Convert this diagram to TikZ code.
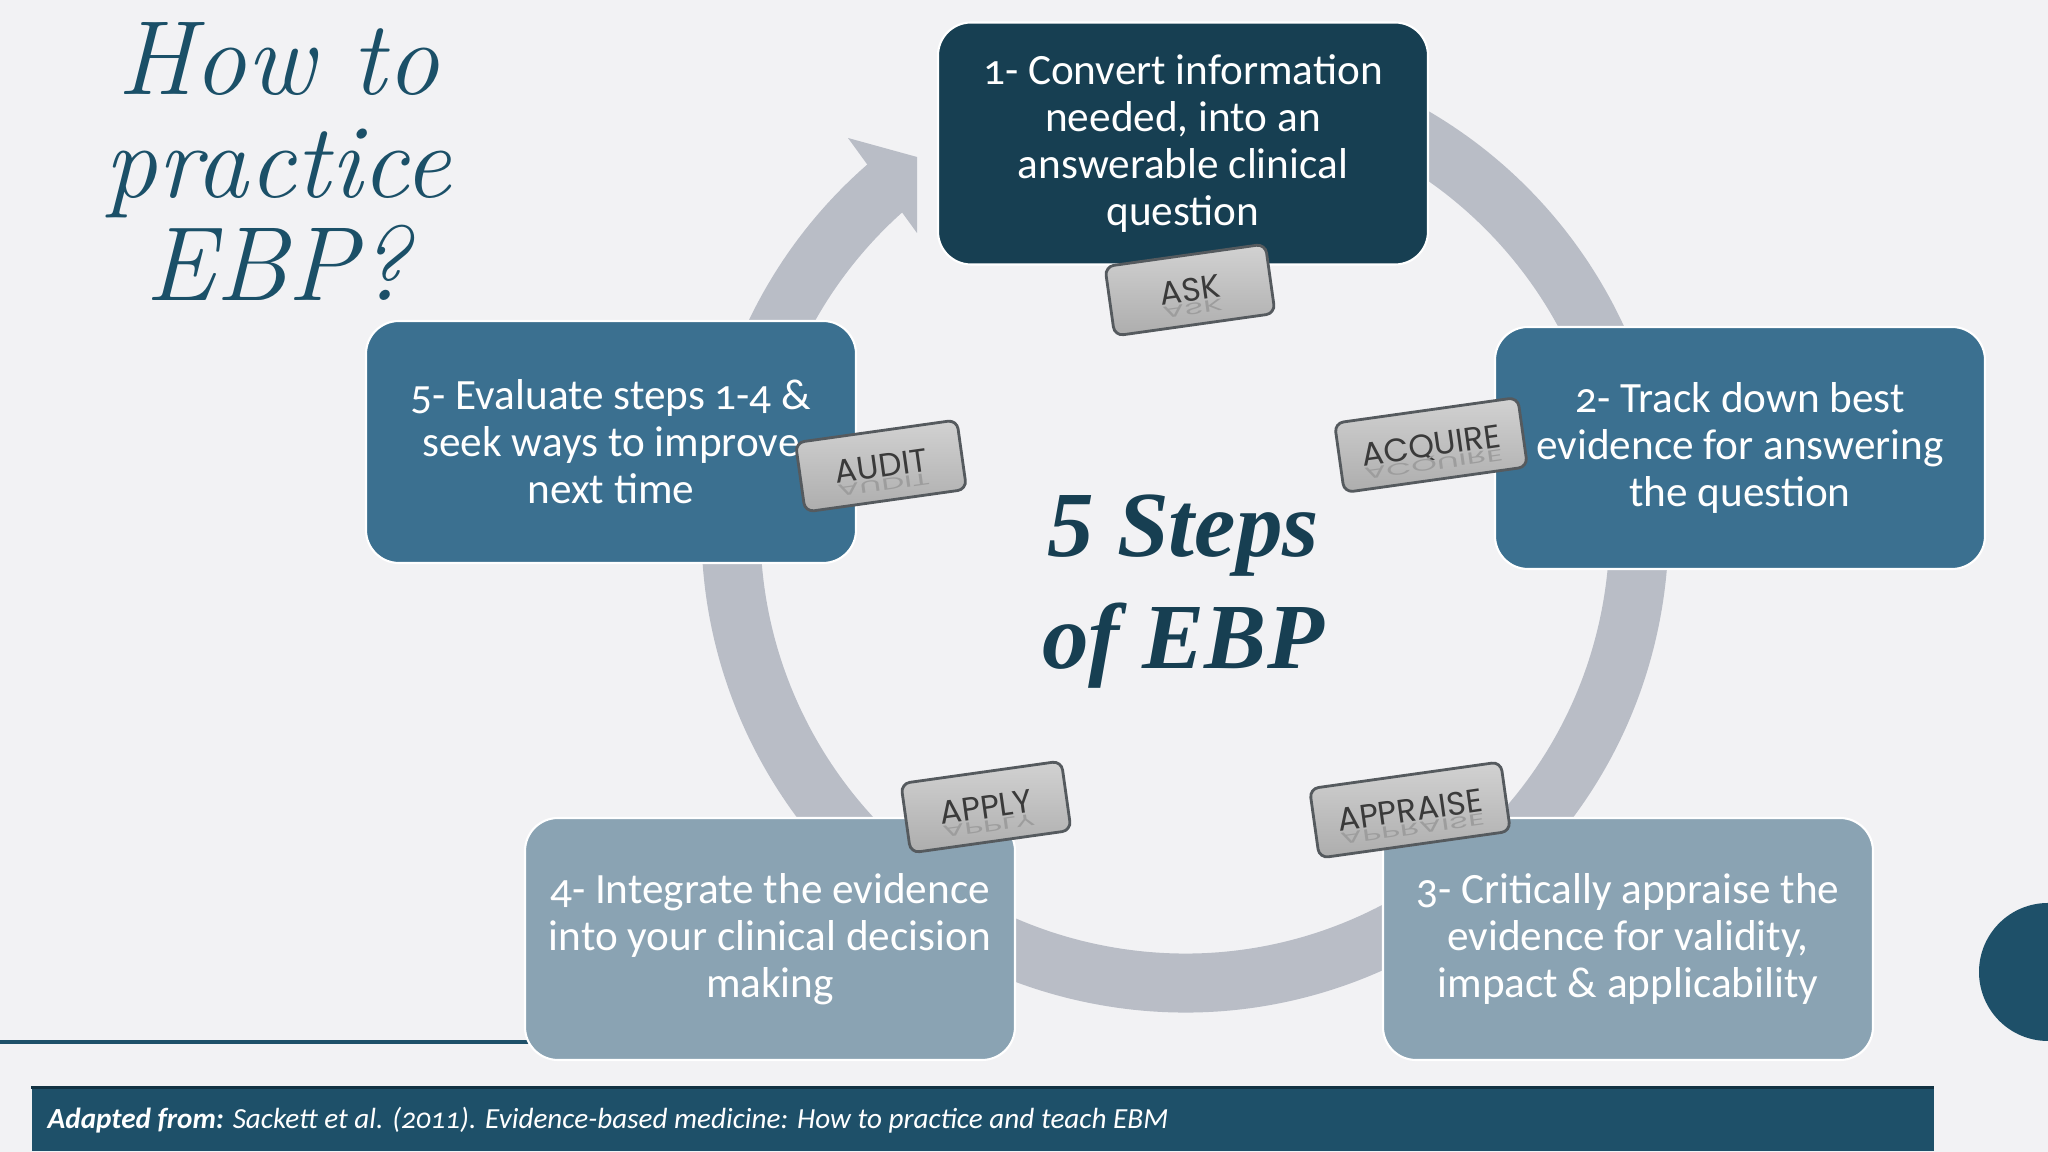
\documentclass[tikz,border=0pt]{standalone}
\usepackage{fontspec}
\usepackage{graphicx}
\usepackage{xcolor}
\usetikzlibrary{positioning,calc}
\newfontfamily\stepfont{Carlito}[Numbers=OldStyle]
\newfontfamily\tagfont{Poppins}
\newfontfamily\centrefont{Liberation Serif}
\definecolor{bg}{HTML}{F2F2F4}
\definecolor{navy}{HTML}{173F52}
\definecolor{midblue}{HTML}{3B7090}
\definecolor{paleblue}{HTML}{8AA3B3}
\definecolor{ringgrey}{HTML}{B9BDC6}
\definecolor{teal}{HTML}{1E5069}
\definecolor{titleink}{HTML}{1B5068}
\definecolor{tagtop}{HTML}{D2D2D2}
\definecolor{tagbot}{HTML}{ADADAD}
\definecolor{tagedge}{HTML}{555A5E}
\definecolor{tagink}{HTML}{3A3A3A}
% tag word with its faint mirror image below
\newcommand{\tagword}[1]{#1\llap{\raisebox{-0.6pt}{\scalebox{1}[-0.5]{\color{tagink!50}#1}}}}

\begin{document}
\begin{tikzpicture}[
    stepbox/.style={draw=white, line width=0.6pt, rounded corners=0.33cm,
      minimum width=4.9cm, minimum height=2.42cm, align=center, text=white,
      font=\stepfont\fontsize{12.3}{13.4}\selectfont},
    steptag/.style={draw=tagedge, line width=0.8pt, rounded corners=0.09cm,
      top color=tagtop, bottom color=tagbot, rotate=8, minimum height=0.7cm,
      text depth=0pt, inner sep=0pt, text=tagink,
      font=\tagfont\fontsize{9.3}{10}\selectfont},
    ring/.style={draw=ringgrey, line width=0.59cm}]
  % Page
  \fill[bg] (0,0) rectangle (20.48,11.52);
  \useasboundingbox (0,0) rectangle (20.48,11.52);

  % Rule at the left
  \draw[teal, line width=1.1pt] (0,1.10) -- (5.3,1.10);

  % The cycle ring
  \coordinate (hub) at (11.85,6.23);
  \draw[ring] ($(hub)+(80:4.54)$) arc[start angle=80, end angle=-230, radius=4.54];
  \fill[ringgrey] (8.48,10.14) -- (9.17,9.95) -- (9.17,9.19) -- cycle;

  % Steps
  \node[stepbox, fill=navy] (ask) at (11.83,10.085)
    {1- Convert information\\needed, into an\\answerable clinical\\question};
  \node[stepbox, fill=midblue] (acquire) at (17.40,7.04)
    {2- Track down best\\evidence for answering\\the question};
  \node[stepbox, fill=paleblue] (appraise) at (16.28,2.13)
    {3- Critically appraise the\\evidence for validity,\\impact \& applicability};
  \node[stepbox, fill=paleblue] (apply) at (7.70,2.13)
    {4- Integrate the evidence\\into your clinical decision\\making};
  \node[stepbox, fill=midblue] (audit) at (6.11,7.10)
    {5- Evaluate steps 1-4 \&\\seek ways to improve\\next time};

  % Tags
  \node[steptag, minimum width=1.62cm] (tag-ask) at (11.90,8.62) {\tagword{ASK}};
  \node[steptag, minimum width=1.85cm] (tag-acquire) at (14.31,7.07) {\tagword{ACQUIRE}};
  \node[steptag, minimum width=1.93cm] (tag-appraise) at (14.10,3.42) {\tagword{APPRAISE}};
  \node[steptag, minimum width=1.62cm] (tag-apply) at (9.86,3.45) {\tagword{APPLY}};
  \node[steptag, minimum width=1.63cm] (tag-audit) at (8.81,6.86) {\tagword{AUDIT}};

  % Centre
  \node[anchor=north, inner sep=0pt, align=center, text=navy,
        font=\centrefont\bfseries\itshape\fontsize{26.5}{32}\selectfont]
    (centre) at (11.83,6.58) {5 Steps\\of EBP};

  % Title
  \node[anchor=north, inner sep=0pt, align=center, text=titleink,
        font=\itshape\fontsize{30}{29.3}\selectfont]
    (title) at (2.78,11.30) {How to\\practice\\EBP?};

  % Source bar
  \node[fill=teal, draw=none, minimum width=19.02cm, minimum height=0.63cm,
        anchor=south west, inner sep=0pt] (footer) at (0.31,0) {};
  \draw[navy!80!black, line width=1pt] (footer.north west) -- (footer.north east);
  \node[right=0.16cm of footer.west, inner sep=0pt, text=white,
        font=\stepfont\itshape\fontsize{8.3}{10}\selectfont] (source)
    {\textbf{Adapted from:} Sackett et al. (2011). Evidence-based medicine: How to practice and teach EBM};

  % Half disc at the right edge
  \fill[teal] (20.48,2.49) arc[start angle=90, end angle=270, radius=0.69] -- cycle;
\end{tikzpicture}
\end{document}
